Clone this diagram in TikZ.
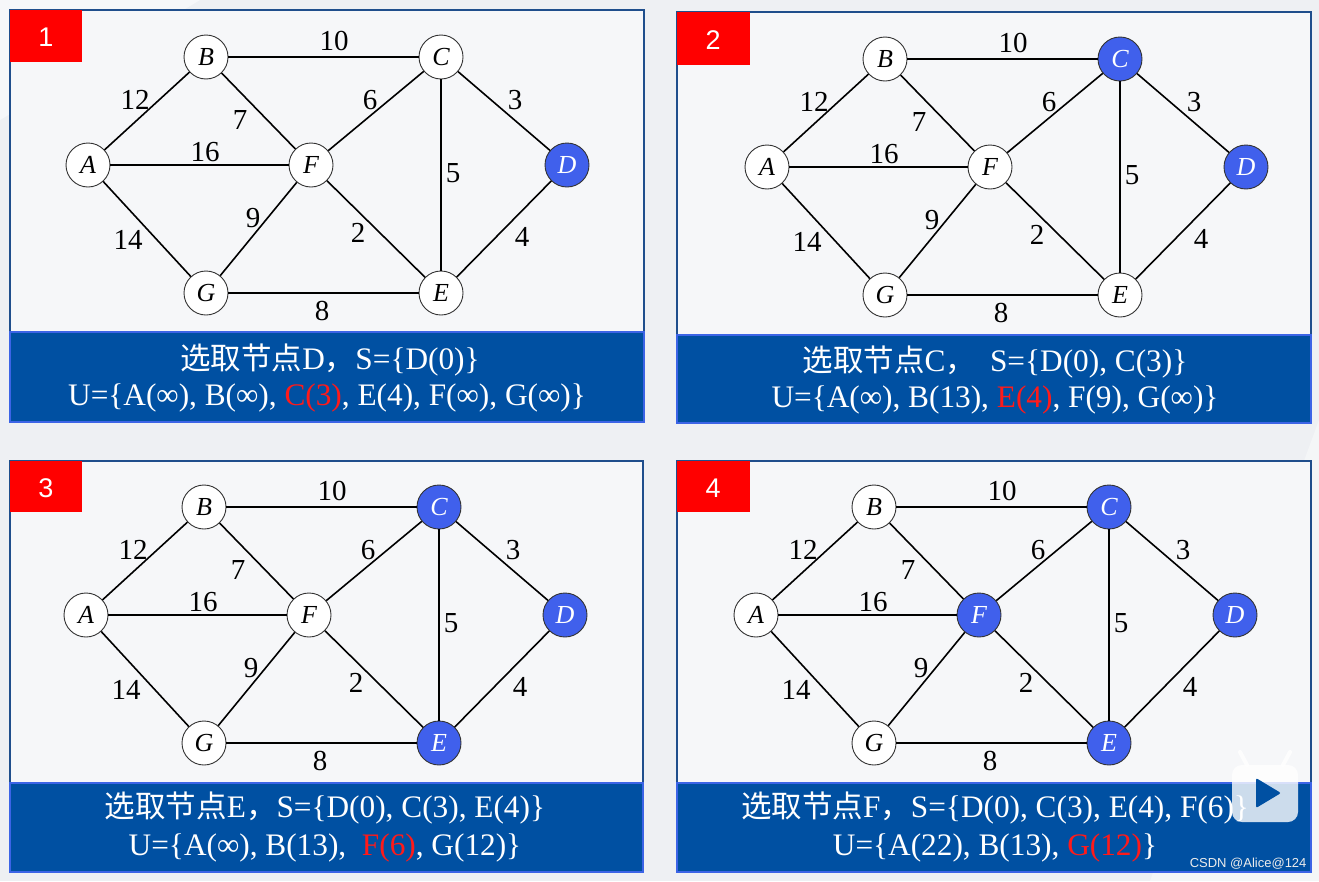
\documentclass[tikz,border=0pt]{standalone}
\usepackage{fontspec}
\setmainfont{Liberation Serif}
\newfontfamily\cjk{Noto Sans CJK SC}
\newfontfamily\lsans{Liberation Sans}
\definecolor{bgc}{HTML}{EEF0F3}
\definecolor{panelc}{HTML}{F6F7F9}
\definecolor{framec}{HTML}{1F4E8C}
\definecolor{boxc}{HTML}{0050A2}
\definecolor{boxedge}{HTML}{3C64E6}
\definecolor{hlc}{HTML}{4060EC}
\definecolor{redc}{HTML}{FF0000}
\definecolor{txtred}{HTML}{FF1A1A}
\tikzset{
  vtx/.style={circle, draw=black!80, line width=0.9pt, fill=white, minimum size=44pt, inner sep=0pt, font=\fontsize{26}{26}\selectfont\itshape},
  hl/.style={vtx, fill=hlc, text=white},
  lbl/.style={font=\fontsize{29}{29}\selectfont, inner sep=0pt},
  edge/.style={line width=1.6pt, black},
  panelbox/.style={draw=framec, line width=1.4pt, fill=panelc},
  infobox/.style={draw=boxedge, line width=1.6pt, fill=boxc},
  redsq/.style={fill=redc, draw=none},
  numtxt/.style={text=white, font=\lsans\fontsize{27}{27}\selectfont},
  infotxt/.style={text=white, font=\fontsize{31.3}{31.3}\selectfont, inner sep=0pt}
}
\newcommand\zh[1]{{\cjk\fontsize{30.5}{30.5}\selectfont #1}}
\newcommand\graphpanel[5]{%
  \node[vtx] (#1A) at (88,165) {A};
  \node[vtx] (#1B) at (206,57) {B};
  \node[#2] (#1C) at (441,57) {C};
  \node[#3] (#1D) at (567,165) {D};
  \node[#5] (#1F) at (311,165) {F};
  \node[vtx] (#1G) at (206,293) {G};
  \node[#4] (#1E) at (441,293) {E};
  \draw[edge] (#1B) -- (#1C);
  \draw[edge] (#1A) -- (#1B);
  \draw[edge] (#1B) -- (#1F);
  \draw[edge] (#1A) -- (#1F);
  \draw[edge] (#1F) -- (#1C);
  \draw[edge] (#1C) -- (#1D);
  \draw[edge] (#1C) -- (#1E);
  \draw[edge] (#1F) -- (#1G);
  \draw[edge] (#1F) -- (#1E);
  \draw[edge] (#1A) -- (#1G);
  \draw[edge] (#1D) -- (#1E);
  \draw[edge] (#1G) -- (#1E);
  \node[lbl] (#1l10) at (334,41) {10};
  \node[lbl] (#1l12) at (135,100) {12};
  \node[lbl] (#1l7) at (240,120) {7};
  \node[lbl] (#1l16) at (205,152) {16};
  \node[lbl] (#1l6) at (370,100) {6};
  \node[lbl] (#1l3) at (515,100) {3};
  \node[lbl] (#1l5) at (453,173) {5};
  \node[lbl] (#1l9) at (253,218) {9};
  \node[lbl] (#1l2) at (358,233) {2};
  \node[lbl] (#1l14) at (128,240) {14};
  \node[lbl] (#1l4) at (522,237) {4};
  \node[lbl] (#1l8) at (322,311) {8};
}
\begin{document}
\begin{tikzpicture}[x=1pt,y=-1pt]
\useasboundingbox (0,0) rectangle (1319,881);
\fill[bgc] (0,0) rectangle (1319,881);
\fill[white, opacity=0.5] (0,120) -- (200,0) -- (0,0) -- cycle;
\fill[white, opacity=0.4] (1319,420) -- (1150,881) -- (1319,881) -- cycle;
% panel 1
\draw[panelbox] (10,10) rectangle (644,422);
\draw[infobox] (10,332) rectangle (644,422);
\fill[redsq] (10,10) rectangle (82,62);
\node[numtxt] (n1) at (46,37) {1};
\begin{scope}
\graphpanel{p}{vtx}{hl}{vtx}{vtx}
\end{scope}
\node[infotxt] (p1t1) at (330,360) {\zh{选取节点}D\zh{，}S=\{D(0)\}};
\node[infotxt] (p1t2) at (327,398) {U=\{A(∞), B(∞), \textcolor{txtred}{C(3)}, E(4), F(∞), G(∞)\}};
% panel 2
\draw[panelbox] (677,12) rectangle (1311,423);
\draw[infobox] (677,335) rectangle (1311,423);
\fill[redsq] (677,12) rectangle (750,65);
\node[numtxt] (n2) at (713,40) {2};
\begin{scope}[shift={(679,2)}]
\graphpanel{q}{hl}{hl}{vtx}{vtx}
\end{scope}
\node[infotxt] (p2t1) at (995,362) {\zh{选取节点}C\zh{，}\hspace{14pt}S=\{D(0), C(3)\}};
\node[infotxt] (p2t2) at (995,400) {U=\{A(∞), B(13), \textcolor{txtred}{E(4)}, F(9), G(∞)\}};
% panel 3
\draw[panelbox] (10,461) rectangle (643,872);
\draw[infobox] (10,783) rectangle (643,872);
\fill[redsq] (10,461) rectangle (82,512);
\node[numtxt] (n3) at (46,488) {3};
\begin{scope}[shift={(-2,450)}]
\graphpanel{r}{hl}{hl}{hl}{vtx}
\end{scope}
\node[infotxt] (p3t1) at (325,808) {\zh{选取节点}E\zh{，}S=\{D(0), C(3), E(4)\}};
\node[infotxt] (p3t2) at (325,848) {U=\{A(∞), B(13), \ \textcolor{txtred}{F(6)}, G(12)\}};
% panel 4
\draw[panelbox] (677,461) rectangle (1311,872);
\draw[infobox] (677,783) rectangle (1311,872);
\fill[redsq] (677,461) rectangle (750,512);
\node[numtxt] (n4) at (713,488) {4};
\begin{scope}[shift={(668,450)}]
\graphpanel{s}{hl}{hl}{hl}{hl}
\end{scope}
\node[infotxt] (p4t1) at (995,808) {\zh{选取节点}F\zh{，}S=\{D(0), C(3), E(4), F(6)\}};
\node[infotxt] (p4t2) at (995,848) {U=\{A(22), B(13), \textcolor{txtred}{G(12)}\}};
% watermark
\fill[white, opacity=0.8, rounded corners=10pt] (1232,765) rectangle (1298,822);
\draw[white, opacity=0.8, line width=4pt, line cap=round] (1247,765) -- (1240,752);
\draw[white, opacity=0.8, line width=4pt, line cap=round] (1283,765) -- (1290,752);
\fill[boxc, rounded corners=2pt] (1256,778) -- (1256,808) -- (1281,793) -- cycle;
\node[text=white!85!gray, font=\lsans\fontsize{13}{13}\selectfont, anchor=east] (wm) at (1310,864) {CSDN @Alice@124};
\end{tikzpicture}
\end{document}
